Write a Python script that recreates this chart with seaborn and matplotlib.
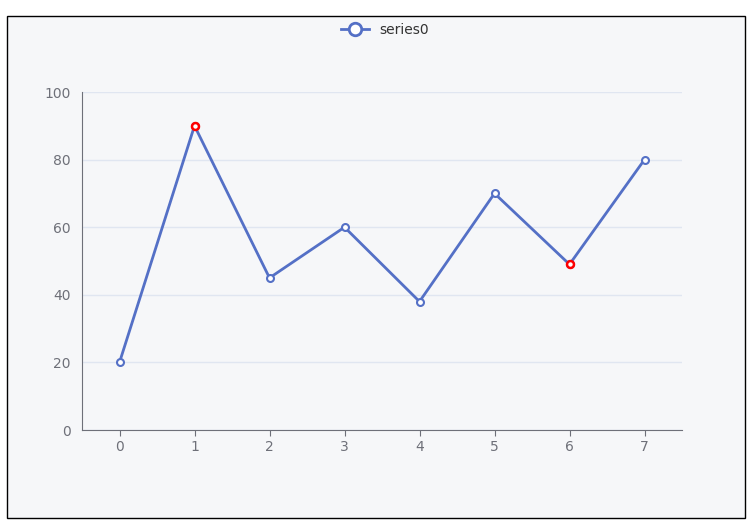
import matplotlib
matplotlib.use("Agg")
import matplotlib.pyplot as plt
import seaborn as sns
import pandas as pd
from matplotlib.patches import Rectangle
from matplotlib.lines import Line2D

x_vals = [0, 1, 2, 3, 4, 5, 6, 7]
y_vals = [20, 90, 45, 60, 38, 70, 49, 80]
red_idx = [1, 6]
series_name = "series0"

df = pd.DataFrame({"x": x_vals, "y": y_vals})
W, H = 751, 531
fig = plt.figure(figsize=(W/100, H/100), dpi=100, facecolor="white")
fig.patches.append(Rectangle((7/W, 1-518/H), 738/W, 502/H, transform=fig.transFigure,
                             facecolor="#f6f7f9", edgecolor="black", lw=1, zorder=-1))
ax = fig.add_axes([82/W, 1-430/H, 600/W, 338/H])
ax.set_facecolor("#f6f7f9")
c = "#5470c6"
sns.lineplot(data=df, x="x", y="y", ax=ax, color=c, lw=2, marker="o", markersize=5,
             markerfacecolor="white", markeredgecolor=c, markeredgewidth=1.5)
rd = df.iloc[red_idx]
ax.scatter(rd["x"], rd["y"], s=25, facecolor="white", edgecolor="red", linewidths=1.8, zorder=5)
ax.set_xlim(-0.5, 7.5)
ax.set_ylim(0, 100)
ax.set_xticks(x_vals)
ax.set_yticks([0, 20, 40, 60, 80, 100])
ax.grid(axis="y", color="#e0e6f1", lw=1)
ax.set_axisbelow(True)
for s in ["top", "right"]:
    ax.spines[s].set_visible(False)
ax.spines["left"].set_color("#6e7079")
ax.spines["bottom"].set_color("#6e7079")
ax.tick_params(colors="#6e7079", labelsize=10, length=4)
ax.tick_params(axis="y", length=0, pad=8)
ax.set_xlabel(""); ax.set_ylabel("")
h = Line2D([], [], color=c, lw=2, marker="o", markersize=9, markerfacecolor="white",
           markeredgecolor=c, markeredgewidth=2)
fig.legend([h], [series_name], loc="center", bbox_to_anchor=(385/W, 1-30/H), frameon=False,
           fontsize=10, handlelength=2, labelcolor="#333333")
fig.savefig("out.png", dpi=100)
